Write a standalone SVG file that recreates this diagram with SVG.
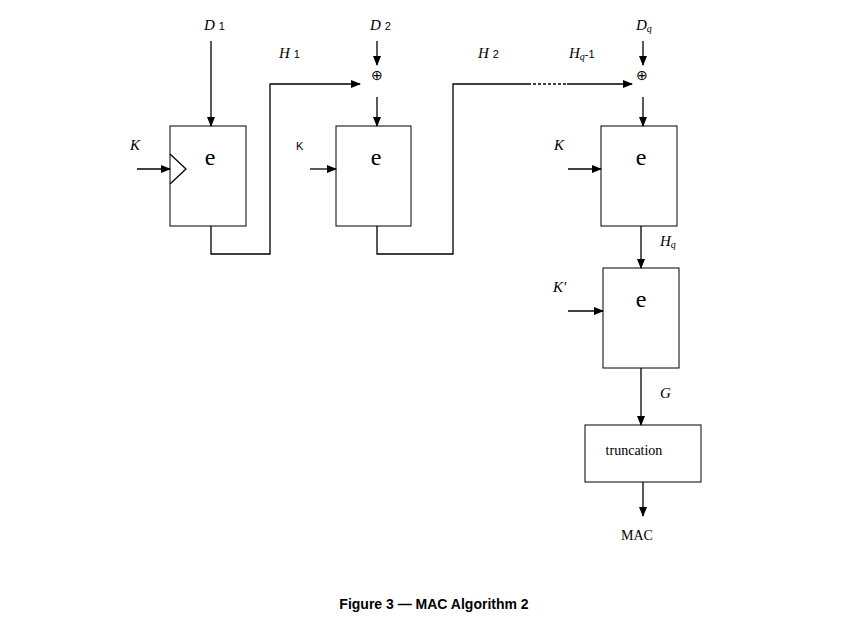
<svg xmlns="http://www.w3.org/2000/svg" width="868" height="623" viewBox="0 0 868 623">
<style>
.b{fill:#fff;stroke:#000;stroke-width:1}
.l{fill:none;stroke:#000;stroke-width:1.3}
.t{font-family:"Liberation Serif",serif;font-size:15px;font-style:italic}
.s{font-family:"Liberation Sans",sans-serif;font-size:11px;font-style:normal}
.e{font-family:"Liberation Serif",serif;font-size:24px}
.r{font-family:"Liberation Serif",serif;font-size:14px}
</style>
<defs><marker id="a" markerWidth="10" markerHeight="8" refX="9" refY="4" orient="auto" markerUnits="userSpaceOnUse"><path d="M0,0L10,4L0,8z"/></marker></defs>
<rect width="868" height="623" fill="#fff"/>
<g id="n1"><rect class="b" x="170" y="126" width="76" height="100"/><path class="l" d="M170,154L186,169L170,184" stroke-width="1"/><text class="e" x="210" y="165" text-anchor="middle">e</text></g>
<g id="n2"><rect class="b" x="336" y="126" width="75" height="100"/><text class="e" x="376" y="165" text-anchor="middle">e</text></g>
<g id="n3"><rect class="b" x="601" y="126" width="76" height="100"/><text class="e" x="641" y="165" text-anchor="middle">e</text></g>
<g id="n4"><rect class="b" x="603" y="268" width="76" height="100"/><text class="e" x="641" y="307" text-anchor="middle">e</text></g>
<g id="n5"><rect class="b" x="585" y="425" width="116" height="57"/><text class="r" x="634" y="455" text-anchor="middle">truncation</text></g>
<g id="connectors">
<path class="l" d="M211,41V126" marker-end="url(#a)"/>
<path class="l" d="M137,169H170" marker-end="url(#a)"/>
<path class="l" d="M211,226V254H270V84H360" marker-end="url(#a)"/>
<path class="l" d="M377,41V65" marker-end="url(#a)"/>
<path class="l" d="M377,97V126" marker-end="url(#a)"/>
<path class="l" d="M310,169H336" marker-end="url(#a)"/>
<path class="l" d="M377,226V254H453V84H528"/>
<path class="l" d="M528,84H567" stroke-dasharray="3,2"/>
<path class="l" d="M567,84H632" marker-end="url(#a)"/>
<path class="l" d="M643,41V65" marker-end="url(#a)"/>
<path class="l" d="M643,97V126" marker-end="url(#a)"/>
<path class="l" d="M568,169H601" marker-end="url(#a)"/>
<path class="l" d="M641,226V268" marker-end="url(#a)"/>
<path class="l" d="M568,311H603" marker-end="url(#a)"/>
<path class="l" d="M641,368V425" marker-end="url(#a)"/>
<path class="l" d="M643,482V516" marker-end="url(#a)"/>
</g>
<g id="labels">
<text class="t" x="204" y="30">D<tspan class="s" dx="4">1</tspan></text>
<text class="t" x="279" y="58">H<tspan class="s" dx="4">1</tspan></text>
<text class="t" x="370" y="30">D<tspan class="s" dx="4">2</tspan></text>
<text class="r" x="377" y="80" text-anchor="middle" font-size="13">⊕</text>
<text class="t" x="478" y="58">H<tspan class="s" dx="4">2</tspan></text>
<text class="t" x="569" y="58">H<tspan font-size="10" dy="2">q</tspan><tspan class="s" dy="-2">-1</tspan></text>
<text class="t" x="636" y="30">D<tspan font-size="10" dy="2">q</tspan></text>
<text class="r" x="642" y="80" text-anchor="middle" font-size="13">⊕</text>
<text class="t" x="130" y="150">K</text>
<text class="s" x="296" y="150" font-size="15">K</text>
<text class="t" x="554" y="150">K</text>
<text class="t" x="660" y="246">H<tspan font-size="10" dy="2">q</tspan></text>
<text class="t" x="553" y="292">K′</text>
<text class="t" x="660" y="398">G</text>
<text class="r" x="637" y="540" text-anchor="middle">MAC</text>
<text x="434" y="609" text-anchor="middle" font-family="Liberation Sans,sans-serif" font-size="14" font-weight="bold">Figure 3 — MAC Algorithm 2</text>
</g>
</svg>
